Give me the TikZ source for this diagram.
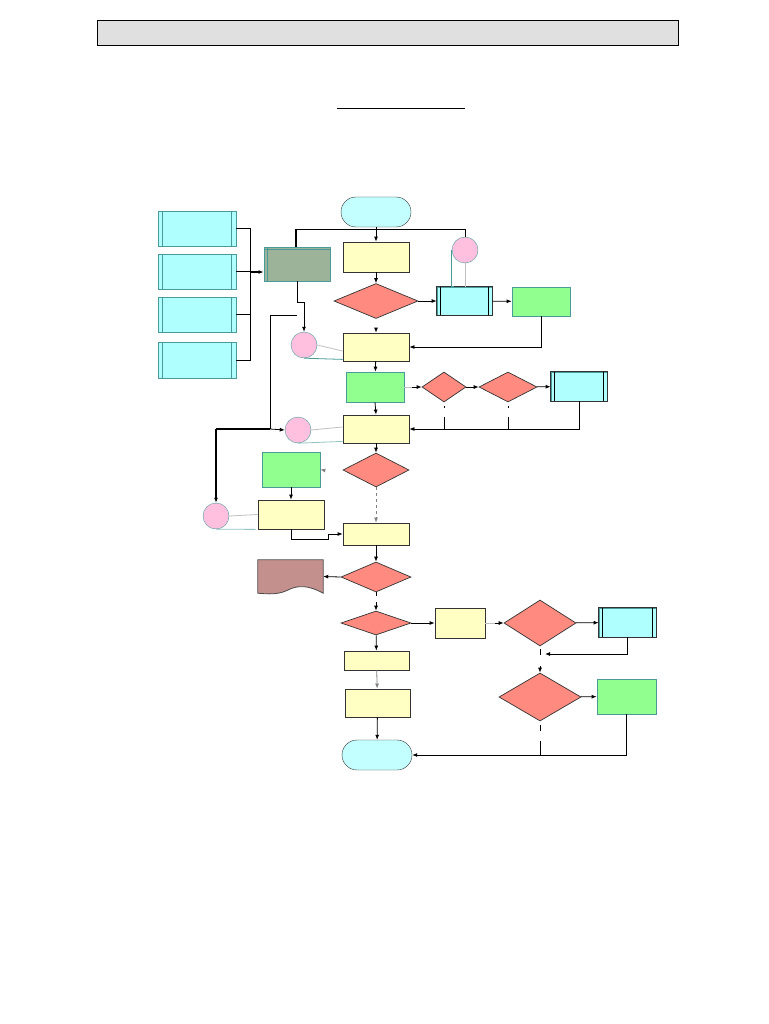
\documentclass[tikz,border=0pt]{standalone}
\usetikzlibrary{shapes.geometric,arrows.meta}
\definecolor{cy}{HTML}{B0FFFF}
\definecolor{cyb}{HTML}{4A9A9A}
\definecolor{ye}{HTML}{FFFFC4}
\definecolor{rd}{HTML}{FF8A80}
\definecolor{gr}{HTML}{90FF90}
\definecolor{pk}{HTML}{FFC0E0}
\definecolor{gg}{HTML}{9CB39A}
\definecolor{dc}{HTML}{C4908E}
\definecolor{term}{HTML}{C4FFFF}
\begin{document}
\begin{tikzpicture}[x=1pt,y=-1pt,
 box/.style={draw=black!80,fill=ye,minimum width=#1,inner sep=0,line width=0.8pt},
 pp/.style={draw=cyb,fill=cy,inner sep=0,line width=0.8pt},
 dia/.style={diamond,draw=black!80,fill=rd,inner sep=0,aspect=2,line width=0.7pt},
 trap/.style={trapezium,shape border rotate=180,trapezium stretches body,trapezium left angle=78,trapezium right angle=78,draw=cyb,fill=gr,inner sep=0,line width=0.7pt},
 circ/.style={circle,draw=cyb,fill=pk,minimum size=26pt,inner sep=0},
 termi/.style={rounded rectangle,draw=black!80,fill=term},
 ar/.style={-{Latex[length=5pt,width=4pt]},line width=0.8pt},
 ln/.style={line width=0.8pt},
 gl/.style={gray!50,line width=0.8pt}]
\useasboundingbox (0,0) rectangle (768,1024);
\node[draw,fill=black!12,minimum width=581pt,minimum height=25pt,inner sep=0] (hdr) at (387.5,32.5) {};
\coordinate (u1) at (337,109); \coordinate (u2) at (465,109);
\draw[line width=1pt] (u1) -- (u2);
% terminals
\node[draw=black!80,fill=term,rounded corners=15pt,minimum width=70pt,minimum height=30pt,inner sep=0] (start) at (376,212) {};
\node[draw=black!80,fill=term,rounded corners=15pt,minimum width=70pt,minimum height=30pt,inner sep=0] (stop) at (377,755) {};
% left cyan boxes
\foreach \n/\y/\h in {c1/228.5/35,c2/271.5/35,c3/314.5/35,c4/360/36}{
 \node[pp,minimum width=78pt,minimum height=\h pt] (\n) at (197,\y) {};
 \draw[cyb,line width=0.8pt] ([xshift=5pt]\n.north west) -- ([xshift=5pt]\n.south west);
 \draw[cyb,line width=0.8pt] ([xshift=-5pt]\n.north east) -- ([xshift=-5pt]\n.south east);}
\node[draw=cyb,fill=gg,minimum width=66pt,minimum height=34pt,inner sep=0,line width=0.8pt] (gb) at (297,264) {};
\draw[cyb,line width=0.8pt] ([xshift=4pt]gb.north west) -- ([xshift=4pt]gb.south west);
\draw[cyb,line width=0.8pt] ([yshift=-3pt]gb.north west) -- ([yshift=-3pt]gb.north east);
\coordinate (jn) at (250,272);
\draw[ln] (c1.east) -| (jn); \draw[ln] (c4.east) -| (jn); \draw[ln] (c2.east) -- (c2.east -| jn); \draw[ln] (c3.east) -- (c3.east -| jn);
\draw[ar,line width=1.4pt] (jn) -- (gb.west |- jn);
% top distribution
\coordinate (t1) at (296,229); \coordinate (t2) at (465,229);
\draw[line width=1.4pt] (gb.north -| t1) -- (t1);
\draw[ln] (t1) -- (t2);
\node[box=66pt,minimum height=30pt] (b1) at (376,257) {};
\draw[ar] (start.south) -- (b1.north);
\node[circ] (p1) at (465,250) {};
\draw[ln] (t2) -- (p1.north);
\node[dia,minimum width=84pt,minimum height=35pt] (d1) at (376,301) {};
\draw[ar] (b1) -- (d1);
\node[pp,minimum width=55pt,minimum height=28pt] (cb2) at (464.5,301) {};
\draw[black!80,ln] (cb2.north west) rectangle (cb2.south east);
\draw[ln] ([xshift=4pt]cb2.north west) -- ([xshift=4pt]cb2.south west);
\draw[ln] ([xshift=-4pt]cb2.north east) -- ([xshift=-4pt]cb2.south east);
\draw[gl] (p1.south) -- (p1.south |- cb2.north);
\draw[cyb,ln] (p1.west) -- ++(0,8) |- (cb2.north -| 454,0) ;
\node[trap,minimum width=58pt,minimum height=29pt] (tr1) at (541,301.5) {};
\draw[ar] (d1) -- (cb2); \draw[ar] (cb2) -- (tr1);
\node[box=66pt,minimum height=28pt] (b2) at (376,347) {};
\draw[ar] (d1.south) ++(0,10) -- (b2.north);
\draw[ar] (tr1.south) |- (b2.east);
% gray box down
\coordinate (g1) at (297,302); \coordinate (g2) at (304,302);
\node[circ] (p2) at (304,345) {};
\draw[ln] (g1 |- gb.south) -- (g1) -- (g2);
\draw[ar] (g2) -- (p2.north);
\draw[gl] (p2.east) -- ([yshift=-4pt]b2.west);
\draw[cyb,ln] (p2.south) -- ([yshift=2pt]b2.south west) ;
\coordinate (g3) at (297,315); \coordinate (g4) at (270,315);
\node[circ] (p3) at (298,430) {};
\coordinate (g5) at (270,429);
\draw[ln] (g3) -- (g4) -- (g5);
\draw[ar] (g5) -- (p3.west);
% row trap2
\node[trap,minimum width=58pt,minimum height=30pt] (tr2) at (375,387) {};
\draw[ar] (b2) -- (tr2);
\node[dia,minimum width=44pt,minimum height=30pt] (d2) at (444,387) {};
\node[dia,minimum width=58pt,minimum height=30pt] (d3) at (508,387) {};
\node[pp,minimum width=56pt,minimum height=29pt] (cb3) at (579,386.5) {};
\draw[black!80,ln] (cb3.north west) rectangle (cb3.south east);
\draw[ln] ([xshift=4pt]cb3.north west) -- ([xshift=4pt]cb3.south west);
\draw[ln] ([xshift=-4pt]cb3.north east) -- ([xshift=-4pt]cb3.south east);
\draw[gl] (tr2.east) -- ++(8,0);
\draw[ar] ([xshift=8pt]tr2.east) -- (d2.west);
\draw[ar] (d2) -- (d3); \draw[ar] (d3) -- (cb3);
\node[box=66pt,minimum height=28pt] (b3) at (376,429) {};
\draw[ar] (tr2.south) -- (b3.north);
\draw[ar] (cb3.south) |- (b3.east);
\draw[ln] (d2.south) ++(0,4) -- ++(0,2); \draw[ln] (d2.south) ++(0,15) -- (d2.south |- b3.east);
\draw[ln] (d3.south) ++(0,4) -- ++(0,2); \draw[ln] (d3.south) ++(0,15) -- (d3.south |- b3.east);
\draw[gl] (p3.east) -- ([yshift=2pt]b3.west);
\draw[cyb!60,ln] (p3.south) -- ([yshift=2pt]b3.south west);
% thick left route
\coordinate (k1) at (216,429);
\node[circ] (p4) at (216,516) {};
\draw[line width=1.4pt] (g5) -- (k1);
\draw[ar,line width=1.4pt] (k1) -- (p4.north);
% diamond 4
\node[dia,minimum width=66pt,minimum height=34pt] (d4) at (376,470) {};
\draw[ar] (b3) -- (d4);
\node[trap,minimum width=58pt,minimum height=35pt] (tr3) at (291,469.5) {};
\draw[ar,gray,dashed] (d4.west) ++(-20,0) -- (tr3.east);
\node[box=66pt,minimum height=29pt] (b4) at (291,514.5) {};
\draw[ar] (tr3) -- (b4);
\draw[gl] (p4.east) -- (b4.west);
\draw[cyb!60,ln] (p4.south) -- ([xshift=-2pt]b4.south west);
\node[box=66pt,minimum height=22pt] (b5) at (376,534) {};
\draw[ar,gray,dashed] (d4.south) -- (b5.north);
\coordinate (e1) at (291,539); \coordinate (e2) at (328,539); \coordinate (e3) at (328,534);
\draw[ln] (b4.south) -- (e1) -- (e2) -- (e3);
\draw[ar] (e3) -- (b5.west);
\node[dia,minimum width=70pt,minimum height=30pt] (d5) at (376,577) {};
\draw[ar] (b5) -- (d5);
\node[inner sep=0,minimum width=65pt,minimum height=33pt] (doc) at (290.5,576.5) {};
\fill[dc] (doc.north west) -- (doc.north east) -- (doc.south east) .. controls (308,585) and (298,585) .. (288,590) .. controls (278,595) and (268,594) .. (doc.south west) -- cycle;
\draw[black!70,ln] (doc.north west) -- (doc.north east) -- (doc.south east) .. controls (308,585) and (298,585) .. (288,590) .. controls (278,595) and (268,594) .. (doc.south west) -- cycle;
\draw[ar] (d5.west) -- (doc.east);
\node[dia,minimum width=70pt,minimum height=24pt] (d6) at (376,623) {};
\draw[ln] (d5.south) -- ++(0,4);
\draw[ar] (d5.south) ++(0,10) -- (d6.north);
\node[box=50pt,minimum height=30pt] (b6) at (460,623) {};
\draw[ar] (d6) -- (b6);
\node[dia,minimum width=72pt,minimum height=46pt] (d7) at (540,623) {};
\draw[gl] (b6.east) -- ++(10,0);
\draw[ar] ([xshift=10pt]b6.east) -- (d7.west);
\node[pp,minimum width=57pt,minimum height=29pt] (cb4) at (627.5,622.5) {};
\draw[black!80,ln] (cb4.north west) rectangle (cb4.south east);
\draw[ln] ([xshift=4pt]cb4.north west) -- ([xshift=4pt]cb4.south west);
\draw[ln] ([xshift=-4pt]cb4.north east) -- ([xshift=-4pt]cb4.south east);
\draw[ar] (d7) -- (cb4);
\coordinate (f1) at (545,654);
\draw[ar] (cb4.south) |- (f1);
\draw[ln] (d7.south) ++(0,3) -- ++(0,6);
\node[dia,minimum width=82pt,minimum height=48pt] (d8) at (540,697) {};
\draw[ar] (d7.south) ++(0,20) -- (d8.north);
\node[trap,minimum width=59pt,minimum height=35pt] (tr4) at (626.5,696.5) {};
\draw[ar] (d8) -- (tr4);
\node[box=65pt,minimum height=19pt] (b7) at (376.5,660.5) {};
\draw[ar] (d6) -- (b7);
\node[box=65pt,minimum height=28pt] (b8) at (377.5,703) {};
\draw[ar,gray] (b7) -- (b8);
\draw[ar] (b8) -- (stop);
\draw[ar] (tr4.south) |- (stop.east);
\draw[ln] (d8.south) ++(0,4) -- ++(0,6); \draw[ln] (d8.south) ++(0,20) -- (d8.south |- stop.east);
\end{tikzpicture}
\end{document}
